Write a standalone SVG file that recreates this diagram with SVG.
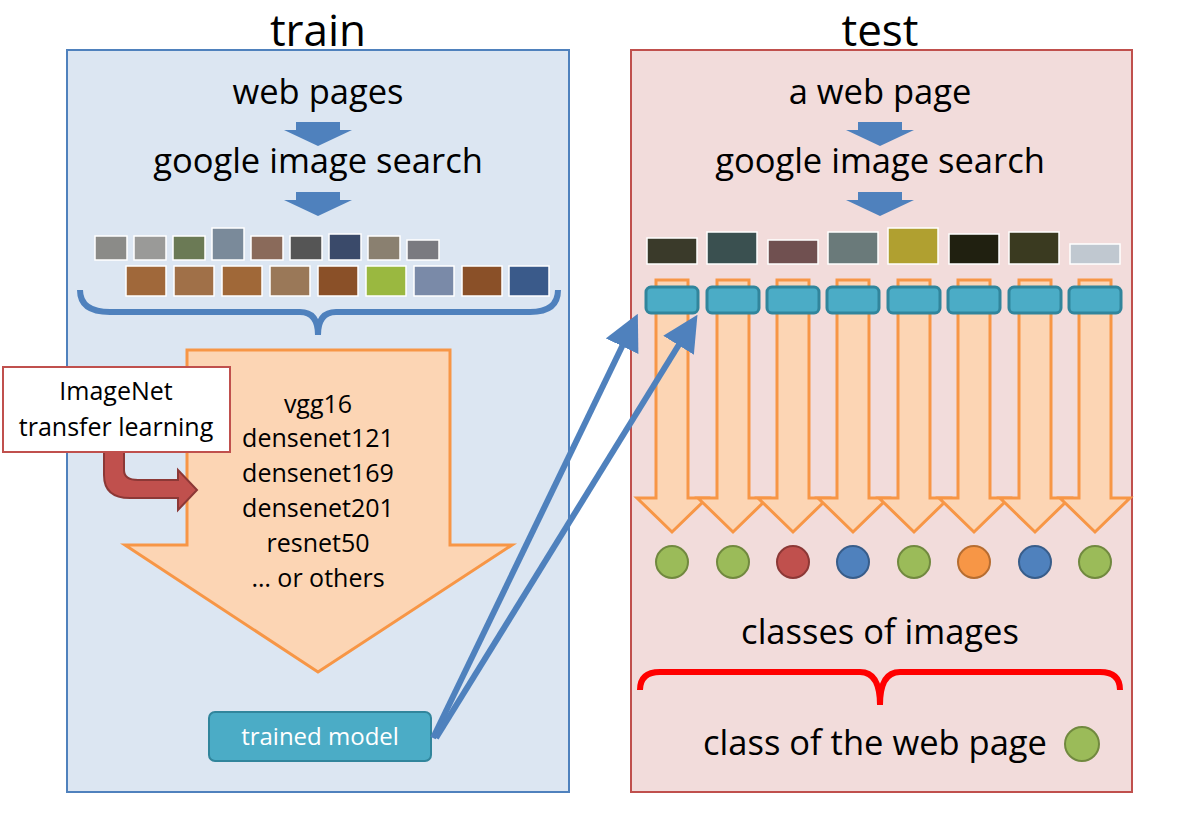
<svg xmlns="http://www.w3.org/2000/svg" width="1200" height="815" viewBox="0 0 1200 815">
<style>
text{font-family:"Open Sans","Noto Sans","Liberation Sans",sans-serif;fill:#000;text-anchor:middle}
.big{font-size:44px}.mid{font-size:34.5px}.sm{font-size:25px}
.dn{fill:#4f81bd}
.orr{fill:#fcd5b4;stroke:#f79646;stroke-width:3}
.tb{fill:#4bacc6;stroke:#31859c;stroke-width:3}
.th{stroke:#fff;stroke-width:1.5}
</style>
<defs>
<marker id="ah" markerWidth="6" markerHeight="6" refX="3" refY="3" orient="auto"><path d="M0,0L6,3L0,6z" fill="#4f81bd"/></marker>
<path id="bluedown" d="M-22,0h44v8h12l-34,16l-34,-16h12z"/>
<path id="narrow" d="M-16,0h32v218h19l-35,34l-35,-34h19z"/>
</defs>
<g id="train">
<rect x="67" y="50" width="502" height="742" fill="#dce6f2" stroke="#4f81bd" stroke-width="2"/>
<text class="big" x="318" y="46">train</text>
<text class="mid" x="318" y="104">web pages</text>
<use href="#bluedown" x="318" y="122" class="dn"/>
<text class="mid" x="318" y="173">google image search</text>
<use href="#bluedown" x="318" y="192" class="dn"/>
<g class="th">
<rect x="95" y="236" width="32" height="24" fill="#8b8b88"/><rect x="134" y="236" width="32" height="24" fill="#9a9a98"/><rect x="173" y="236" width="32" height="24" fill="#6b7a55"/><rect x="212" y="228" width="32" height="32" fill="#7a8a9a"/><rect x="251" y="236" width="32" height="24" fill="#8a6a5a"/><rect x="290" y="236" width="32" height="24" fill="#555"/><rect x="329" y="234" width="32" height="26" fill="#3a4a6a"/><rect x="368" y="236" width="32" height="24" fill="#8a8070"/><rect x="407" y="240" width="32" height="20" fill="#7a7a80"/>
<rect x="126" y="266" width="40" height="30" fill="#a0683a"/><rect x="174" y="266" width="40" height="30" fill="#a07048"/><rect x="222" y="266" width="40" height="30" fill="#a06838"/><rect x="270" y="266" width="40" height="30" fill="#9a7858"/><rect x="318" y="266" width="40" height="30" fill="#8a5028"/><rect x="366" y="266" width="40" height="30" fill="#9ab840"/><rect x="414" y="266" width="40" height="30" fill="#7a8aa8"/><rect x="462" y="266" width="40" height="30" fill="#8a5028"/><rect x="509" y="266" width="40" height="30" fill="#3a5a8a"/>
</g>
<path d="M80,290 Q80,312 110,312 H300 Q318,312 318,335 Q318,312 336,312 H530 Q558,312 558,290" fill="none" stroke="#4f81bd" stroke-width="6"/>
<path class="orr" d="M187,350 H450 V545 H512 L318,672 L125,545 H187z"/>
<text class="sm" x="318" y="413">vgg16</text>
<text class="sm" x="318" y="447">densenet121</text>
<text class="sm" x="318" y="482">densenet169</text>
<text class="sm" x="318" y="517">densenet201</text>
<text class="sm" x="318" y="552">resnet50</text>
<text class="sm" x="318" y="587">… or others</text>
</g>
<g id="imagenet">
<path d="M104,452 V475 Q104,498 130,498 H178 V510 L197,490 L178,470 V480 H138 Q124,480 124,470 V452z" fill="#c0504d" stroke="#8c3836" stroke-width="2"/>
<rect x="3" y="367" width="227" height="85" fill="#fff" stroke="#c0504d" stroke-width="2"/>
<text class="sm" x="116" y="400">ImageNet</text>
<text class="sm" x="116" y="436">transfer learning</text>
</g>
<g id="model">
<rect x="209" y="712" width="222" height="49" rx="6" fill="#4bacc6" stroke="#31859c" stroke-width="2"/>
<text x="320" y="745" style="font-size:24px;fill:#fff">trained model</text>
</g>
<g id="test">
<rect x="631" y="50" width="501" height="742" fill="#f2dcdb" stroke="#c0504d" stroke-width="2"/>
<text class="big" x="880" y="46">test</text>
<text class="mid" x="880" y="104">a web page</text>
<use href="#bluedown" x="880" y="122" class="dn"/>
<text class="mid" x="880" y="173">google image search</text>
<use href="#bluedown" x="880" y="192" class="dn"/>
<g class="th">
<rect x="647" y="238" width="50" height="26" fill="#3a3a2a"/><rect x="707" y="232" width="50" height="32" fill="#3a5050"/><rect x="768" y="240" width="50" height="24" fill="#705050"/><rect x="828" y="232" width="50" height="32" fill="#6a7a7a"/><rect x="888" y="228" width="50" height="36" fill="#b0a030"/><rect x="949" y="234" width="50" height="30" fill="#202010"/><rect x="1009" y="232" width="50" height="32" fill="#3a3a20"/><rect x="1070" y="244" width="50" height="20" fill="#c0c8d0"/>
</g>
<g class="orr">
<use href="#narrow" x="672" y="280"/><use href="#narrow" x="733" y="280"/><use href="#narrow" x="793" y="280"/><use href="#narrow" x="853" y="280"/><use href="#narrow" x="914" y="280"/><use href="#narrow" x="974" y="280"/><use href="#narrow" x="1035" y="280"/><use href="#narrow" x="1095" y="280"/>
</g>
<g class="tb">
<rect x="646" y="287" width="52" height="26" rx="5"/><rect x="707" y="287" width="52" height="26" rx="5"/><rect x="767" y="287" width="52" height="26" rx="5"/><rect x="827" y="287" width="52" height="26" rx="5"/><rect x="888" y="287" width="52" height="26" rx="5"/><rect x="948" y="287" width="52" height="26" rx="5"/><rect x="1009" y="287" width="52" height="26" rx="5"/><rect x="1069" y="287" width="52" height="26" rx="5"/>
</g>
<g stroke-width="2">
<circle cx="672" cy="562" r="16" fill="#9bbb59" stroke="#71893f"/><circle cx="733" cy="562" r="16" fill="#9bbb59" stroke="#71893f"/><circle cx="793" cy="562" r="16" fill="#c0504d" stroke="#8c3836"/><circle cx="853" cy="562" r="16" fill="#4f81bd" stroke="#385d8a"/><circle cx="914" cy="562" r="16" fill="#9bbb59" stroke="#71893f"/><circle cx="974" cy="562" r="16" fill="#f79646" stroke="#b66d31"/><circle cx="1035" cy="562" r="16" fill="#4f81bd" stroke="#385d8a"/><circle cx="1095" cy="562" r="16" fill="#9bbb59" stroke="#71893f"/>
</g>
<text class="mid" x="880" y="644">classes of images</text>
<path d="M640,690 Q640,672 660,672 H860 Q880,672 880,705 Q880,672 900,672 H1100 Q1120,672 1120,690" fill="none" stroke="#ff0000" stroke-width="6"/>
<text class="mid" x="875" y="755">class of the web page</text>
<circle cx="1082" cy="744" r="17" fill="#9bbb59" stroke="#71893f" stroke-width="2"/>
</g>
<g id="connectors" stroke="#4f81bd" stroke-width="6" fill="none" marker-end="url(#ah)">
<path d="M433,738 L630,330"/>
<path d="M436,738 L688,330"/>
</g>
</svg>
